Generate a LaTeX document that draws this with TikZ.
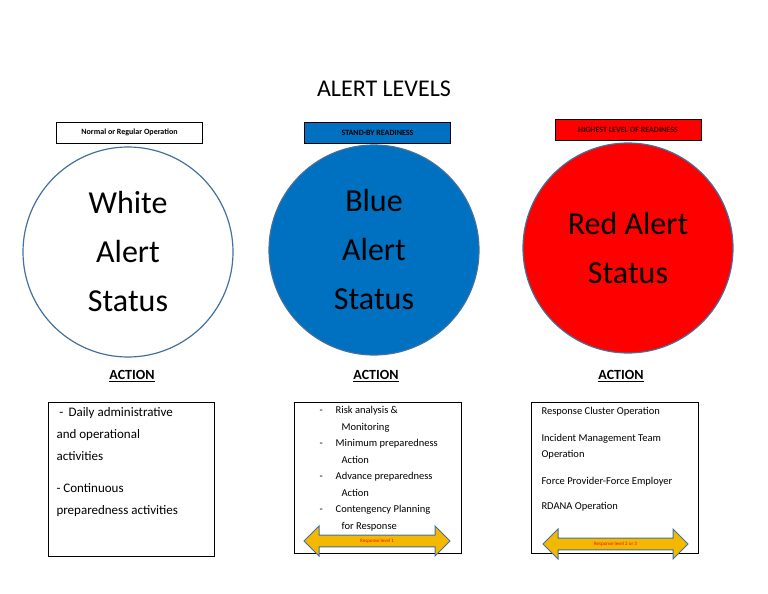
\documentclass[tikz,border=0pt]{standalone}
\usepackage{fontspec}
\setmainfont{Carlito}
\usetikzlibrary{shapes.arrows}
\definecolor{cblue}{HTML}{0070C0}
\definecolor{cedge}{HTML}{41719C}
\definecolor{corange}{HTML}{F5B800}
\begin{document}
\begin{tikzpicture}[x=1pt,y=-1pt]
\tikzset{
 circ/.style={circle,draw=cedge,line width=1.2pt,minimum size=210pt,inner sep=0pt,align=center,font=\fontsize{32}{49}\selectfont},
 tag/.style={draw,line width=0.7pt,minimum width=146pt,minimum height=21pt,inner sep=0pt,font=\bfseries\fontsize{8}{9}\selectfont},
 act/.style={font=\bfseries\fontsize{14}{16}\selectfont},
 abox/.style={draw,line width=0.7pt,anchor=north west,inner sep=0pt},
 darrow/.style={double arrow,draw=cedge,line width=1pt,fill=corange,double arrow head extend=4pt,minimum height=146pt,minimum width=30pt,inner sep=0pt,font=\fontsize{5}{6}\selectfont,text=red},
 txt/.style={anchor=north west,align=left,font=\fontsize{10.5}{16}\selectfont}
}
\useasboundingbox (0,0) rectangle (768,594);
\node (title) at (384,89) {\fontsize{24}{28}\selectfont ALERT LEVELS};
\node[tag,fill=white] (t1) at (129.5,132.5) {Normal or Regular Operation};
\node[tag,fill=cblue] (t2) at (377.5,132.5) {STAND-BY READINESS};
\node[tag,fill=red,text=black!80!red] (t3) at (628,130) {HIGHEST LEVEL OF READINESS};
\node[circ,fill=white] (c1) at (128,252) {White\\Alert\\Status};
\node[circ,fill=cblue] (c2) at (374,250) {Blue\\Alert\\Status};
\node[circ,fill=red] (c3) at (628,248) {Red Alert\\Status};
\node[act] (a1) at (132,376) {\underline{ACTION}};
\node[act] (a2) at (376,376) {\underline{ACTION}};
\node[act] (a3) at (621,376) {\underline{ACTION}};
\node[abox,minimum width=166pt,minimum height=154pt] (b1) at (48,402) {};
\node[abox,minimum width=167pt,minimum height=151pt] (b2) at (294,402) {};
\node[abox,minimum width=167pt,minimum height=151pt] (b3) at (531,402) {};
\node[txt,font=\fontsize{13}{22}\selectfont] (l1) at (53,404) {\ -\, Daily administrative\\and operational\\activities};
\node[txt,font=\fontsize{13}{22}\selectfont] (l1b) at (53,480) {- Continuous\\preparedness activities};
\node[txt,font=\fontsize{10.5}{16.5}\selectfont] (l2) at (316,403) {-\hspace{13pt}Risk analysis \&\\\hspace{22pt}Monitoring\\-\hspace{13pt}Minimum preparedness\\\hspace{22pt}Action\\-\hspace{13pt}Advance preparedness\\\hspace{22pt}Action\\-\hspace{13pt}Contengency Planning\\\hspace{22pt}for Response};
\node[txt] (r1) at (538,404) {Response Cluster Operation};
\node[txt] (r2) at (538,431) {Incident Management Team\\Operation};
\node[txt] (r3) at (538,474) {Force Provider-Force Employer};
\node[txt] (r4) at (538,499) {RDANA Operation};
\node[darrow] (d1) at (377,541) {Response level 1};
\node[darrow,minimum height=145pt] (d2) at (615.5,544) {Response level 2 or 3};
\end{tikzpicture}
\end{document}
